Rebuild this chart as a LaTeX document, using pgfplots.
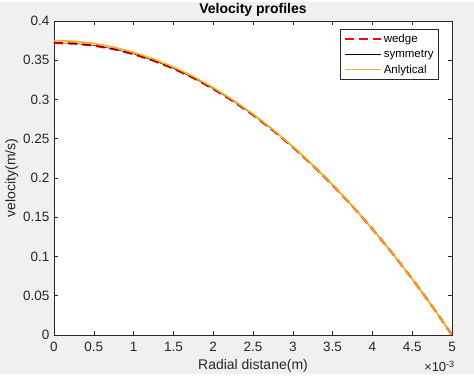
\documentclass[border=0pt]{standalone}
\usepackage{pgfplots}
\pgfplotsset{compat=1.18}
\usepackage{fontspec}
\setmainfont{Liberation Sans}
\usetikzlibrary{backgrounds}
\definecolor{mbg}{HTML}{F0F0F0}
\definecolor{maxis}{HTML}{262626}
\definecolor{myellow}{rgb}{0.929,0.694,0.125}
\pgfplotstableread{
r wedge symmetry analytical
0     0.3720 0.3722 0.3750
0.25  0.3712 0.3714 0.3741
0.5   0.3686 0.3688 0.3713
0.75  0.3641 0.3643 0.3666
1     0.3577 0.3579 0.3600
1.25  0.3494 0.3496 0.3516
1.5   0.3393 0.3395 0.3413
1.75  0.3274 0.3276 0.3291
2     0.3135 0.3137 0.3150
2.25  0.2978 0.2980 0.2991
2.5   0.2802 0.2804 0.2813
2.75  0.2607 0.2609 0.2616
3     0.2393 0.2395 0.2400
3.25  0.2161 0.2162 0.2166
3.5   0.1909 0.1910 0.1913
3.75  0.1639 0.1640 0.1641
4     0.1349 0.1349 0.1350
4.25  0.1041 0.1041 0.1041
4.5   0.0713 0.0713 0.0713
4.75  0.0366 0.0366 0.0366
5     0.0000 0.0000 0.0000
}\datatable
\begin{document}
\begin{tikzpicture}
\begin{axis}[
  scale only axis,
  width=398pt, height=314pt,
  xmin=0, xmax=5, ymin=0, ymax=0.4,
  xtick={0,0.5,...,5},
  ytick={0,0.05,...,0.4},
  yticklabel style={/pgf/number format/fixed,/pgf/number format/precision=2, xshift=-1pt},
  xticklabel style={/pgf/number format/fixed, yshift=-4pt},
  /pgf/number format/assume math mode=true,
  tick align=inside,
  major tick length=4pt,
  axis line style={maxis, line width=0.5pt},
  tick style={maxis, line width=0.5pt},
  ticklabel style={font=\fontsize{13.5}{15}\selectfont, text=maxis},
  axis background/.style={fill=white},
  title={\bfseries Velocity profiles},
  title style={font=\fontsize{14}{16}\selectfont, yshift=-5pt},
  xlabel={Radial distane(m)},
  ylabel={velocity(m/s)},
  label style={font=\fontsize{14}{16}\selectfont, text=maxis},
  xlabel style={yshift=0pt},
  ylabel style={yshift=-2pt},
  legend style={at={(0.967,0.975)}, anchor=north east, draw=maxis, line width=0.5pt,
    font=\fontsize{11.5}{13}\selectfont, row sep=2pt, inner sep=3pt, fill=white},
  legend cell align=left,
]
\addplot[red, line width=2.2pt, dash pattern=on 9pt off 5pt,
  legend image code/.code={\draw[red, line width=2.2pt, dash pattern=on 9pt off 5pt] (0pt,0pt) -- (36pt,0pt);}]
  table[x=r, y=wedge] {\datatable};
\addlegendentry{wedge}
\addplot[black, line width=0.5pt,
  legend image code/.code={\draw[black, line width=0.6pt] (0pt,0pt) -- (36pt,0pt);}]
  table[x=r, y=symmetry] {\datatable};
\addlegendentry{symmetry}
\addplot[myellow, line width=1.6pt,
  legend image code/.code={\draw[myellow, line width=1.6pt] (0pt,0pt) -- (36pt,0pt);}]
  table[x=r, y=analytical] {\datatable};
\addlegendentry{Anlytical}
\coordinate (ll) at (rel axis cs:0,0);
\coordinate (ur) at (rel axis cs:1,1);
\coordinate (br) at (rel axis cs:1,0);
\end{axis}
\node[anchor=north east, font=\fontsize{13}{15}\selectfont, text=maxis, inner sep=0pt] at ([shift={(3pt,-26pt)}]br) {×10\textsuperscript{-3}};
\begin{scope}[on background layer]
\fill[mbg] ([shift={(-54pt,-39pt)}]ll) rectangle ([shift={(22pt,19pt)}]ur);
\end{scope}
\end{tikzpicture}
\end{document}
